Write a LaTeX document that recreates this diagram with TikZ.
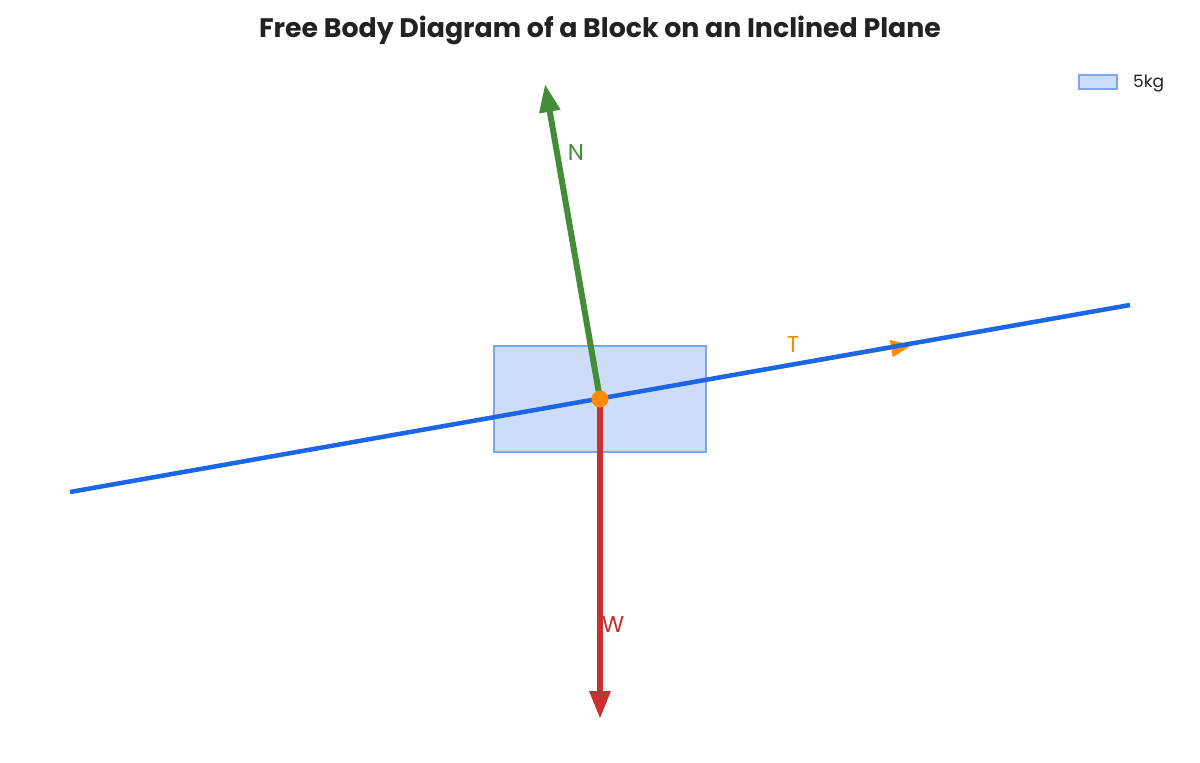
\documentclass[tikz,border=0pt]{standalone}
\usepackage{fontspec}
\setmainfont{Poppins}
\usetikzlibrary{arrows.meta}
\definecolor{inclineblue}{HTML}{1A66E6}
\definecolor{blockfill}{HTML}{CDDDF8}
\definecolor{blockedge}{HTML}{7AA7EE}
\definecolor{ngreen}{HTML}{448C38}
\definecolor{wred}{HTML}{C93030}
\definecolor{torange}{HTML}{FF8C00}
\definecolor{titlegray}{HTML}{222222}
\tikzset{
  blockbox/.style={fill=blockfill, draw=blockedge, line width=2pt},
  forcearrow/.style={line width=6pt, -{Triangle[length=28pt,width=20pt]}},
  tensionarrow/.style={draw=torange, line width=2pt, -{Triangle[length=21pt,width=17pt]}},
  inclineline/.style={draw=inclineblue, line width=4.5pt},
  flabel/.style={font=\fontsize{23}{27}\selectfont, inner sep=0pt}
}
\begin{document}
\begin{tikzpicture}[x=1pt,y=-1pt]
\useasboundingbox (0,0) rectangle (1200,763);
\node[font=\bfseries\fontsize{26.8}{31}\selectfont, text=titlegray] (title) at (600,30) {Free Body Diagram of a Block on an Inclined Plane};
% legend
\node[blockbox, minimum width=38pt, minimum height=14pt, inner sep=0pt] (legbox) at (1098,82) {};
\node[font=\fontsize{17}{20}\selectfont, text=titlegray, anchor=west, inner sep=0pt] (legtext) at (1133,84) {5kg};
% block
\node[blockbox, minimum width=212pt, minimum height=106pt, inner sep=0pt] (block) at (600,399) {};
\coordinate (c) at (600,399);
\coordinate (ntip) at (545,84);
\coordinate (wtip) at (600,719);
\coordinate (ttip) at (912,345);
\coordinate (inA) at (70,492);
\coordinate (inB) at (1130,305);
\draw[forcearrow, draw=ngreen, fill=ngreen] (c) -- (ntip);
\draw[forcearrow, draw=wred, fill=wred] (c) -- (wtip);
\draw[tensionarrow, fill=torange] (c) -- (ttip);
\draw[inclineline] (inA) -- (inB);
\fill[torange] (c) circle (8.5pt);
\node[flabel, text=ngreen] (nlab) at (576,152) {N};
\node[flabel, text=wred] (wlab) at (613,624) {W};
\node[flabel, text=torange] (tlab) at (793,344) {T};
\end{tikzpicture}
\end{document}
